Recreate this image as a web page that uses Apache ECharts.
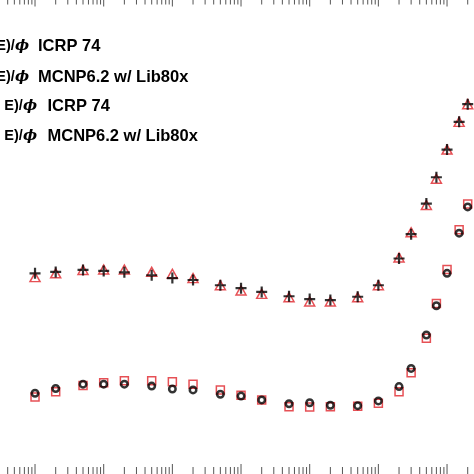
<!DOCTYPE html>
<html>
<head>
<meta charset="utf-8">
<script src="https://cdn.jsdelivr.net/npm/echarts@6/dist/echarts.min.js"></script>
<style>
  html, body { margin: 0; padding: 0; background: #fff; }
  #main { width: 474px; height: 474px; }
</style>
</head>
<body>
<div id="main"></div>
<script>
// neutron energy (MeV), ICRP 74 grid
const energy = [1e-7, 2e-7, 5e-7, 1e-6, 2e-6, 5e-6, 1e-5, 2e-5, 5e-5, 1e-4, 2e-4, 5e-4,
  1e-3, 2e-3, 5e-3, 1e-2, 2e-2, 3e-2, 5e-2, 7e-2, 0.1, 0.15, 0.2];

// values (arbitrary units, y axis not shown)
const hStarIcrp = [42.2, 42.5, 42.9, 42.7, 42.4, 41.8, 41.2, 40.8, 39.7, 39.1, 38.3, 37.4,
  36.8, 36.6, 37.3, 39.7, 45.3, 50.4, 56.8, 62.3, 68.1, 73.9, 77.6];
const hStarMcnp = [41.4, 42.2, 42.9, 43.0, 43.0, 42.5, 42.1, 41.2, 39.7, 38.6, 37.9, 37.2,
  36.3, 36.3, 37.2, 39.7, 45.5, 50.8, 56.5, 62.0, 68.1, 73.9, 77.6];
const hpIcrp = [17.1, 18.1, 19.0, 19.0, 19.0, 18.6, 18.0, 17.8, 16.9, 16.5, 15.7, 14.9,
  15.1, 14.6, 14.5, 15.5, 18.5, 22.3, 29.3, 35.4, 42.2, 50.6, 56.1];
const hpMcnp = [16.3, 17.4, 18.7, 19.3, 19.7, 19.7, 19.5, 19.0, 17.8, 16.7, 15.7, 14.3,
  14.2, 14.3, 14.4, 15.0, 17.4, 21.4, 28.6, 35.9, 43.0, 51.3, 56.7];

const legendNames = ["H*(10)(E)/", "H*(10)(E)/", "Hp(10, E)/", "Hp(10, E)/"];
const legendTail = ["ICRP 74", "MCNP6.2 w/ Lib80x", "ICRP 74", "MCNP6.2 w/ Lib80x"];

const decades = [1e-8, 1e-7, 1e-6, 1e-5, 1e-4, 1e-3, 1e-2, 1e-1];

// visible energy window of the cropped plot
const xMin = 3.09e-8;
const xMax = 0.247;

const RED = "#e0242b";

function pairs(ys) {
  return energy.map((e, i) => [e, ys[i]]);
}

// log-axis tick marks (decades + 2..9 minors)
let ticks = [];
for (let d of decades) {
  for (let m = 1; m <= 9; m++) {
    if (d * m >= xMin && d * m <= xMax) ticks.push([d * m, m == 1 ? 1 : 0]);
  }
}

function renderTick(params, api) {
  const cs = params.coordSys;
  const x = api.coord([api.value(0), 50])[0];
  const major = api.value(1);
  const style = { stroke: "#555", lineWidth: 1 };
  const bot = cs.y + cs.height;
  return {
    type: "group",
    children: [
      { type: "line", shape: { x1: x, y1: bot, x2: x, y2: bot - (major ? 10 : 7) }, style: style },
      { type: "line", shape: { x1: x, y1: cs.y, x2: x, y2: cs.y + (major ? 6.5 : 4.5) }, style: style },
    ],
  };
}

let chart = echarts.init(document.getElementById("main"));

const font = { fontFamily: "Liberation Sans, Arial", fontWeight: "bold", fontSize: 16.5, fill: "#000" };
let legendText = [];
const phiEnd = [29, 29, 37, 37];
const tailStart = [38, 38, 47.5, 47.5];
const legendY = [46, 77, 106, 136];
for (let i = 0; i < 4; i++) {
  legendText.push({
    type: "text",
    x: phiEnd[i],
    y: legendY[i],
    style: {
      text: "{n|" + legendNames[i] + "}{p|ϕ}",
      align: "right",
      verticalAlign: "middle",
      rich: {
        n: { fontFamily: "Liberation Sans, Arial", fontWeight: "bold", fontSize: 14.5, fill: "#000" },
        p: { fontFamily: "DejaVu Serif", fontStyle: "italic", fontWeight: "bold", fontSize: 15, fill: "#000" },
      },
    },
  });
  legendText.push({
    type: "text",
    x: tailStart[i],
    y: legendY[i],
    style: Object.assign({ text: legendTail[i], align: "left", verticalAlign: "middle" }, font),
  });
}

chart.setOption({
  animation: false,
  backgroundColor: "#fff",
  grid: {
    left: 0,
    right: 0,
    top: 0,
    bottom: 0,
  },
  xAxis: {
    type: "log",
    logBase: 10,
    min: xMin,
    max: xMax,
    axisLine: { show: false },
    axisTick: { show: false },
    axisLabel: { show: false },
    splitLine: { show: false },
  },
  yAxis: {
    type: "value",
    min: 0.2,
    max: 99.4,
    show: false,
  },
  graphic: legendText,
  series: [
    {
      type: "custom",
      renderItem: renderTick,
      data: ticks,
      clip: false,
      silent: true,
      z: 1,
    },
    {
      name: "H*(10) MCNP6.2 w/ Lib80x",
      type: "scatter",
      data: pairs(hStarMcnp),
      symbol: "triangle",
      symbolSize: [10, 9],
      itemStyle: { color: "rgba(0,0,0,0)", borderColor: RED, borderWidth: 1.5 },
    },
    {
      name: "H*(10) ICRP 74",
      type: "scatter",
      data: pairs(hStarIcrp),
      symbol: "path://M5,0L5,10M0,5L10,5",
      symbolSize: 11,
      itemStyle: { color: "rgba(0,0,0,0)", borderColor: "#000", borderWidth: 2.2 },
    },
    {
      name: "Hp(10) MCNP6.2 w/ Lib80x",
      type: "scatter",
      data: pairs(hpMcnp),
      symbol: "rect",
      symbolSize: 8,
      itemStyle: { color: "rgba(0,0,0,0)", borderColor: RED, borderWidth: 1.5 },
    },
    {
      name: "Hp(10) ICRP 74",
      type: "scatter",
      data: pairs(hpIcrp),
      symbol: "circle",
      symbolSize: 6.5,
      itemStyle: { color: "rgba(0,0,0,0)", borderColor: "#000", borderWidth: 2.5 },
    },
  ],
});
</script>
</body>
</html>
